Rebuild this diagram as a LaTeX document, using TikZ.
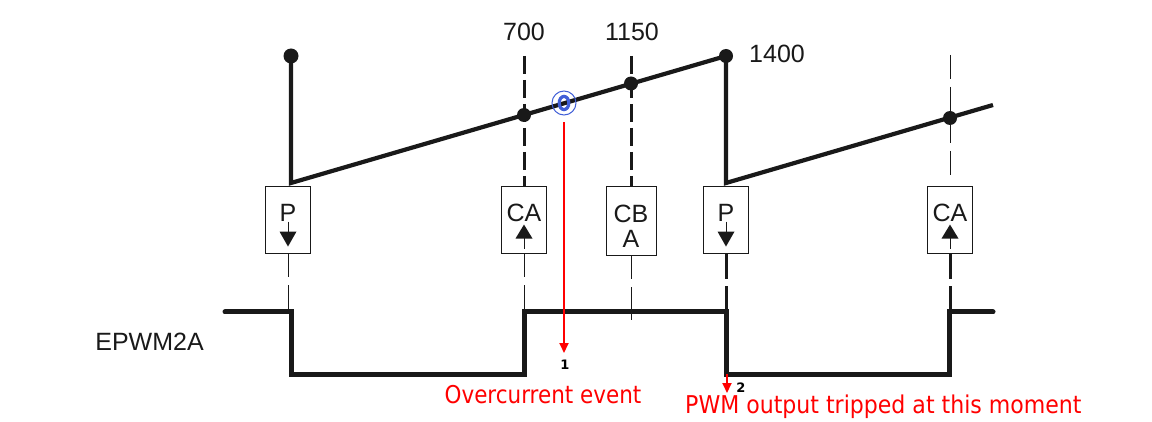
\documentclass[tikz,border=0pt]{standalone}
\usepackage{fontspec}
\usepackage{graphicx}
\setmainfont{Liberation Sans}
\newfontfamily\redfont{DejaVu Sans}
\usetikzlibrary{arrows.meta,calc}
\definecolor{ink}{RGB}{25,25,25}
\definecolor{alarm}{RGB}{255,0,0}
\definecolor{ocblue}{RGB}{65,95,215}

\newcommand\pmarkbox[1]{%
  \node[lbl] (#1t) at ($(#1.north)+(0,27)$) {P};
  \draw[stem] ($(#1.north)+(0,36)$) -- ($(#1.north)+(0,47)$);
  \fill[ink] ($(#1.north)+(-8.5,46)$) -- ($(#1.north)+(8.5,46)$) -- ($(#1.north)+(0,61)$) -- cycle;}
\newcommand\camarkbox[1]{%
  \node[lbl] (#1t) at ($(#1.north)+(0,27.5)$) {CA};
  \fill[ink] ($(#1.north)+(-8.5,53)$) -- ($(#1.north)+(8.5,53)$) -- ($(#1.north)+(0,39)$) -- cycle;
  \draw[stem] ($(#1.north)+(0,52)$) -- ($(#1.north)+(0,63)$);}

\begin{document}
\begin{tikzpicture}[x=1pt,y=-1pt,
  ramp/.style={line width=4.2pt, ink, line join=miter},
  wave/.style={line width=5pt, ink, line join=miter, line cap=round},
  thickdash/.style={line width=3pt, ink, dash pattern=on 18pt off 6pt},
  thindash/.style={line width=1pt, ink, dash pattern=on 24pt off 8pt},
  dot/.style={circle, fill=ink, inner sep=0pt, minimum size=14pt},
  evbox/.style={draw=ink, line width=0.9pt, minimum width=45pt, minimum height=67pt, inner sep=0pt},
  lbl/.style={font=\fontsize{25}{25}\selectfont, text=ink, inner sep=0pt},
  stem/.style={line width=1pt, ink},
  redtxt/.style={text=alarm, font=\redfont\fontsize{24.5}{24.5}\selectfont, inner sep=0pt},
  redarrow/.style={alarm, line width=2pt, -{Triangle[length=10pt,width=9pt]}},
  num/.style={font=\redfont\bfseries\fontsize{13}{13}\selectfont, inner sep=0pt, text=black}
]
\useasboundingbox (0,0) rectangle (1152,422);

% event boxes
\node[evbox] (pb1) at (288,219.5) {};
\node[evbox] (ca1) at (524,219.5) {};
\node[evbox, minimum width=50pt, minimum height=69pt] (cba) at (631,220.5) {};
\node[evbox] (pb2) at (726,219.5) {};
\node[evbox] (ca2) at (950,219.5) {};

\pmarkbox{pb1}
\camarkbox{ca1}
\pmarkbox{pb2}
\camarkbox{ca2}
\node[lbl] (cbat1) at (631,213.5) {CB};
\node[lbl] (cbat2) at (631,239) {A};

% reference lines
\coordinate (c700) at (524,56);
\coordinate (c1150) at (631,56);
\coordinate (c2) at (950,55);
\coordinate (c2e) at (950,178);
\draw[thickdash] (c700) -- (ca1.north);
\draw[thickdash] (c1150) -- (cba.north);
\draw[thindash] (c2) -- (c2e);

\coordinate (w1) at (288,312);
\coordinate (w2) at (524,312);
\coordinate (w3) at (631,320);
\coordinate (w4) at (726,312);
\coordinate (w5) at (950,312);
\draw[thindash] (pb1.south) -- (w1);
\draw[thindash] (ca1.south) -- (w2);
\draw[thindash, dash pattern=on 24pt off 8pt on 40pt] (cba.south) -- (w3);
\draw[thickdash, dash pattern=on 26pt off 7pt on 40pt] (pb2.south) -- (w4);
\draw[thickdash, dash pattern=on 26pt off 7pt on 40pt] (ca2.south) -- (w5);

% counter ramp
\node[dot, minimum size=15pt] (top) at (291,56) {};
\coordinate (b1) at (291,183);
\node[dot] (d700) at (524,115) {};
\node[dot] (d1150) at (631,83.5) {};
\node[dot] (d1400) at (726,56) {};
\coordinate (b2) at (726,183);
\node[dot] (d2) at (950,118) {};
\coordinate (e2) at (993,105);
\draw[ramp] (top.center) -- (b1) -- (d1400.center) -- (b2) -- (e2);

\node[lbl] (t700) at (524,32) {700};
\node[lbl] (t1150) at (632,32) {1150};
\node[lbl, anchor=west] (t1400) at (749,54) {1400};

% EPWM2A waveform
\node[lbl] (tep) at (149.5,342) {EPWM2A};
\draw[wave] (225,312) -- (291,312) -- (291,374) -- (524,374) -- (524,312)
  -- (726,312) -- (726,374) -- (949,374) -- (949,312) -- (993,312);

% overcurrent event
\node[circle, draw=ocblue, line width=1pt, minimum size=24pt, inner sep=0pt] (oc) at (564,103) {};
\draw[ocblue, line width=3.2pt] (oc.center) ellipse [x radius=4.8pt, y radius=6.6pt];
\coordinate (ev1) at (564,353);
\draw[redarrow, shorten <=7pt] (oc) -- (ev1);
\node[num] (n1) at (565,365) {1};

\coordinate (tr0) at (727,374);
\coordinate (tr) at (727,393);
\draw[redarrow] (tr0) -- (tr);
\node[num] (n2) at (741,388) {2};

\node[redtxt, anchor=base] (oct) at (543,403) {\scalebox{0.877}[1]{Overcurrent event}};
\node[redtxt, anchor=base west] (pwt) at (685,413) {\scalebox{0.90}[1]{PWM output tripped at this moment}};
\end{tikzpicture}
\end{document}
